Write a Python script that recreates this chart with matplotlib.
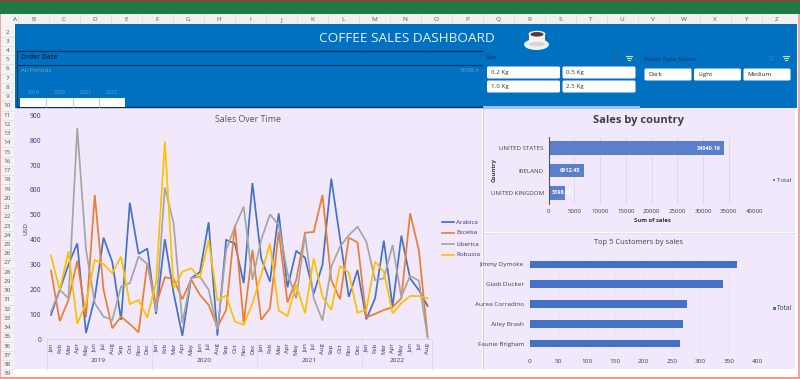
import matplotlib
matplotlib.use("Agg")
import matplotlib.pyplot as plt
from matplotlib.patches import Rectangle, Ellipse, FancyBboxPatch

W, H = 800, 379
plt.rcParams['font.family'] = ['Open Sans', 'DejaVu Sans']

# ---------- data ----------
months = ["Jan","Feb","Mar","Apr","May","Jun","Jul","Aug","Sep","Oct","Nov","Dec"]
month_labels = months*3 + months[:8]
years = ["2019","2020","2021","2022"]
arabica = [97,197,300,385,24,166,408,310,77,549,343,364,101,402,185,13,245,269,470,14,399,385,225,628,325,231,506,208,355,328,182,300,646,405,170,278,79,164,396,130,416,244,197,133]
excelsa = [275,72,157,315,88,580,198,43,90,60,27,305,137,249,242,160,240,178,137,48,117,459,66,359,77,124,432,147,238,428,431,580,237,160,408,389,87,101,117,128,164,506,358,10]
liberica = [110,198,164,850,359,144,90,77,211,225,332,302,110,610,466,64,245,251,198,37,359,452,533,238,399,502,459,265,164,419,164,74,291,372,418,452,392,237,244,378,170,254,235,5]
robusta = [336,198,352,61,144,318,302,265,332,140,157,86,230,795,204,271,285,245,399,157,175,70,57,144,258,385,115,93,218,104,325,171,117,294,267,106,117,311,271,103,144,173,173,164]
series_names = ["Arabica","Excelsa","Liberica","Robusta"]
series_colors = ["#4472C4","#ED7D31","#A5A5A5","#FFC000"]

countries = ["UNITED STATES","IRELAND","UNITED KINGDOM"]
country_sales = [34040.19,6912.45,3198.03]
customers = ["Jimmy Dymoke","Gladi Ducker","Aurea Corradino","Ailey Brash","Faunie Brigham"]
customer_sales = [364,339,276,270,265]

col_letters = list("ABCDEFGHIJKLMNOPQRSTUVWXYZ")
row_numbers = list(range(2,40))

# ---------- helpers ----------
fig = plt.figure(figsize=(W/100, H/100), dpi=100, facecolor="white")

def axes_px(x0, y0, x1, y1, **kw):
    return fig.add_axes([x0/W, 1-y1/H, (x1-x0)/W, (y1-y0)/H], **kw)

bg = axes_px(0, 0, W, H)
bg.set_xlim(0, W); bg.set_ylim(H, 0); bg.axis("off")

def rect(x0, y0, x1, y1, c, z=1, **kw):
    bg.add_patch(Rectangle((x0, y0), x1-x0, y1-y0, facecolor=c, edgecolor="none", zorder=z, **kw))

def txt(x, y, s, size=5, color="#333333", ha="center", va="center", **kw):
    bg.text(x, y, s, fontsize=size, color=color, ha=ha, va=va, zorder=10, **kw)

# ---------- worksheet frame ----------
LAV = "#F1E9FB"
BLUE = "#0070C0"
rect(0, 0, W, 3, "#7A4B35")
rect(0, 2, W, 14, "#1E7B45")
rect(0, 14, W, 24, "#EEF1EE")
rect(0, 14, 14, H, "#F3F3F3")
rect(14, 24, W, H, "white")
rect(0, 14, 1, H, "#F2A8A0", z=6)
rect(798, 14, W, H, "#F2A8A0", z=6)
rect(0, 377, W, H, "#F09A90", z=6)
for i, c in enumerate(col_letters):
    cx = 33 + 31*(i-1) if i else 15
    txt(cx, 19.3, c, size=4.6, color="#555555")
    if i:
        bg.plot([cx-15.5]*2, [15, 24], color="#D5D5D5", lw=0.4, zorder=2)
for r in row_numbers:
    y = 32 + 9.24*(r-2)
    txt(7.5, y, str(r), size=4.6, color="#555555")
    bg.plot([1, 14], [y+4.6]*2, color="#D8D8D8", lw=0.4, zorder=2)

# ---------- banner ----------
rect(15, 24, 797, 108, BLUE, z=2)
txt(407, 39, "COFFEE SALES DASHBOARD", size=9.7, color="#EAF4FB")

# cup decoration
bg.add_patch(Ellipse((536.5, 44.5), 25, 11, facecolor="#EFEFEF", edgecolor="none", zorder=4))
bg.add_patch(Rectangle((529, 34), 16, 10, facecolor="#F5F5F5", edgecolor="none", zorder=5))
bg.add_patch(Ellipse((537, 44), 16, 4.5, facecolor="#D9D4CF", edgecolor="none", zorder=5))
bg.add_patch(Ellipse((537, 34), 17, 6.5, facecolor="#F0F0F0", edgecolor="none", zorder=6))
bg.add_patch(Ellipse((537, 34.3), 13, 4.5, facecolor="#5A3A2E", edgecolor="none", zorder=7))

# order date slicer
for y, lw in ((50.7, 1.0), (64.5, 0.8), (107.2, 1.0)):
    bg.plot([17, 482], [y, y], color="#0F2F55", lw=lw, zorder=4)
bg.plot([17.3, 17.3], [51, 107], color="#0F2F55", lw=0.8, zorder=4)
txt(21, 57.5, "Order Date", size=4.8, color="#0B2E59", ha="left", fontweight="bold")
txt(21, 70.5, "All Periods", size=4.4, color="#6FA3CF", ha="left")
txt(478, 71, "YEARS ▾", size=3.6, color="#6FA3CF", ha="right")
for cx, y in zip((33.5, 60, 86, 112), years):
    txt(cx - 6, 93, y, size=3.8, color="#6FA3CF", ha="left")
rect(20, 98, 125, 107, "white", z=5)
for x in (46.3, 72.5, 99.3):
    bg.plot([x, x], [98, 107], color="#9DB7CE", lw=0.5, zorder=6)

# size slicer
txt(486, 57.5, "Size", size=4.6, color="#0B2E59", ha="left")
for (x0, x1, y0, y1, lab) in [(487, 560, 66.5, 78.5, "0.2 Kg"), (562.5, 635.5, 66.5, 78.5, "0.5 Kg"),
                              (487, 560, 80.5, 92.5, "1.0 Kg"), (562.5, 635.5, 80.5, 92.5, "2.5 Kg")]:
    bg.add_patch(FancyBboxPatch((x0, y0), x1-x0, y1-y0, boxstyle="round,pad=0,rounding_size=1.5",
                                facecolor="white", edgecolor="none", zorder=5))
    txt(x0+4, (y0+y1)/2, lab, size=4.5, color="#333333", ha="left")
# roast slicer
txt(644.5, 59.5, "Roast Type Name", size=4.6, color="#0B2E59", ha="left")
for (x0, x1, lab) in [(644.5, 691.5, "Dark"), (694, 741, "Light"), (743.5, 790.5, "Medium")]:
    bg.add_patch(FancyBboxPatch((x0, 68.5), x1-x0, 12, boxstyle="round,pad=0,rounding_size=1.5",
                                facecolor="white", edgecolor="none", zorder=5))
    txt(x0+4, 74.5, lab, size=4.5, color="#333333", ha="left")
# slicer icons
for x, col in ((616, "#2A5F94"), (629, "#CFE3F2"), (771, "#2E79B5"), (786, "#CFE3F2")):
    bg.plot([x-3, x+3], [55.5, 55.5], color=col, lw=0.8, zorder=5)
    bg.plot([x-2, x+2], [57.5, 57.5], color=col, lw=0.8, zorder=5)
    bg.plot([x-1, x+1], [59.5, 59.5], color=col, lw=0.8, zorder=5)

# ---------- panels ----------
rect(14, 108, 482, 369, LAV, z=2)
rect(483, 108, 795, 232, LAV, z=2)
rect(483, 234, 795, 369, LAV, z=2)
bg.plot([482.5, 482.5], [108, 369], color="#CFCFD8", lw=0.6, zorder=3)
bg.plot([483, 795], [233, 233], color="#DADAE2", lw=0.6, zorder=3)
rect(483, 106, 640, 109, "#9CC3E6", z=3)

# ---------- line chart ----------
INK = "#3F2B7B"
ax = axes_px(46.6, 115.5, 432, 339)
ax.patch.set_alpha(0)
x = list(range(len(arabica)))
for vals, c, n in zip((arabica, excelsa, liberica, robusta), series_colors, series_names):
    ax.plot(x, vals, color=c, lw=1.25, label=n, solid_joinstyle="miter")
ax.set_xlim(-0.5, 43.5); ax.set_ylim(0, 900)
ax.set_yticks(range(0, 901, 100))
ax.set_xticks(x, month_labels, rotation=90)
ax.tick_params(axis="x", length=0, labelsize=4.3, labelcolor=INK, pad=3)
ax.tick_params(axis="y", length=0, labelsize=4.8, labelcolor=INK, pad=4)
for s in ("top", "right", "left"):
    ax.spines[s].set_visible(False)
ax.spines["bottom"].set_color("#D5D0DE"); ax.spines["bottom"].set_linewidth(0.5)
tr = ax.get_xaxis_transform()
for b in (-0.5, 11.5, 23.5, 35.5, 43.5):
    ax.plot([b, b], [0, -0.134], transform=tr, color="#DAD5E3", lw=0.5, clip_on=False)
for c, y in zip((5.4, 17.5, 29.5, 39.5), years):
    ax.text(c, -0.098, y, transform=tr, fontsize=4.6, color=INK, ha="center", va="center")
txt(26, 229, "USD", size=4.6, color=INK, rotation=90)
txt(248, 119.5, "Sales Over Time", size=6.4, color="#595959")
for i, (n, c) in enumerate(zip(series_names, series_colors)):
    y = 222 + 11*i
    bg.plot([441.5, 454], [y, y], color=c, lw=1.25, zorder=5)
    txt(456, y, n, size=4.5, color=INK, ha="left")

# ---------- country chart ----------
a2 = axes_px(548.7, 137, 754.7, 204)
a2.patch.set_alpha(0)
a2.barh(countries, country_sales, height=0.6, color="#5B7FCB")
a2.set_xlim(0, 40000); a2.set_ylim(2.5, -0.5)
a2.set_xticks(range(0, 40001, 5000))
a2.grid(axis="x", color="#D6D3DE", lw=0.5); a2.set_axisbelow(True)
a2.tick_params(length=0, labelsize=4.4, labelcolor="#404040", pad=3.5)
for s in ("top", "right", "bottom"):
    a2.spines[s].set_visible(False)
a2.spines["left"].set_color("#555555"); a2.spines["left"].set_linewidth(0.8)
a2.text(country_sales[0]-700, 0, f"{country_sales[0]:.2f}", color="white", fontsize=4.0, fontweight="bold", ha="right", va="center")
a2.text(country_sales[1]-700, 1, f"{country_sales[1]:.2f}", color="white", fontsize=4.0, fontweight="bold", ha="right", va="center")
a2.text(700, 2, f"{country_sales[2]:.2f}", color="white", fontsize=4.0, fontweight="bold", ha="left", va="center")
txt(638.5, 121, "Sales by country", size=8, color="#404040", fontweight="bold")
txt(652, 220.5, "Sum of sales", size=4.2, color="#333333", fontweight="bold")
txt(494, 170, "Country", size=4.2, color="#333333", fontweight="bold", rotation=90)
rect(772.5, 178.5, 775, 181, "#5B7FCB", z=5)
txt(777, 180, "Total", size=4.4, color="#404040", ha="left")

# ---------- customers chart ----------
a3 = axes_px(529.7, 254.4, 757.3, 353.6)
a3.patch.set_alpha(0)
a3.barh(customers, customer_sales, height=0.37, color="#4472C4")
a3.set_xlim(0, 400); a3.set_ylim(4.5, -0.5)
a3.set_xticks(range(0, 401, 50))
a3.grid(axis="x", color="#E6E1EF", lw=0.5); a3.set_axisbelow(True)
a3.tick_params(length=0, labelsize=4.6, labelcolor="#404040", pad=4)
for s in a3.spines.values():
    s.set_visible(False)
txt(638, 242.5, "Top 5 Customers by sales", size=5.4, color="#404040")
rect(772.5, 306.5, 775.5, 309.5, "#4472C4", z=5)
txt(777, 308, "Total", size=4.8, color="#404040", ha="left")

fig.savefig("out.png", dpi=100, facecolor="white")
